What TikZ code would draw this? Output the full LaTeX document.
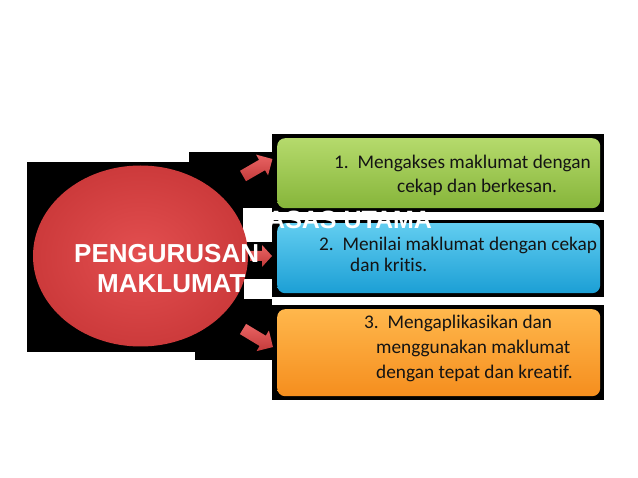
\documentclass[tikz,border=0pt]{standalone}
\usepackage{fontspec}
\setmainfont{Carlito}[Ligatures={NoCommon}]
\newfontfamily\headfont{Liberation Sans}
\usetikzlibrary{shapes.geometric}
\definecolor{txtdark}{HTML}{141414}
\definecolor{grtop}{HTML}{B5DA6C}
\definecolor{grbot}{HTML}{86B53A}
\definecolor{bltop}{HTML}{62CDF0}
\definecolor{blbot}{HTML}{1C9FD5}
\definecolor{ortop}{HTML}{FFB74C}
\definecolor{orbot}{HTML}{F58E1E}
\definecolor{redin}{HTML}{E34F50}
\definecolor{redout}{HTML}{CC3A3B}
\definecolor{artop}{HTML}{E96464}
\definecolor{arbot}{HTML}{C33A3A}
\begin{document}
\begin{tikzpicture}[x=1pt,y=-1pt,
  blk/.style={fill=black,draw=none},
  wht/.style={fill=white,draw=none},
  cardbox/.style={rectangle,rounded corners=8pt,draw=none,anchor=north west,minimum width=323pt},
  boxtxt/.style={anchor=base west,inner sep=0pt,text=txtdark,font=\fontsize{19.3}{23}\selectfont},
  headtxt/.style={anchor=base west,inner sep=0pt,text=white,font=\headfont\bfseries\fontsize{26}{30}\selectfont},
  asastxt/.style={anchor=base west,inner sep=0pt,text=white,font=\headfont\bfseries\fontsize{25}{28}\selectfont},
  redarrow/.style={top color=artop,bottom color=arbot,draw=none}]
% canvas
\path[fill=white,use as bounding box] (0,0) rectangle (638,478);
% black backgrounds
\path[blk] (27,162) rectangle (272,352);
\path[blk] (189,152) rectangle (272,162);
\path[blk] (195,352) rectangle (272,360);
\path[blk] (272,134) rectangle (604,212);
\path[blk] (272,220) rectangle (604,297);
\path[blk] (272,305) rectangle (604,400);
% white patches
\path[wht] (243,208) rectangle (272,242);
\path[wht] (244,279) rectangle (272,299);
% central ellipse
\node[ellipse,draw=none,minimum width=215pt,minimum height=181pt,inner color=redin,outer color=redout] (hub) at (140.5,256) {};
% arrows
\begin{scope}[shift={(243,176)},rotate=30]
  \path[redarrow] (0,-6)--(22,-6)--(22,-12)--(34,0)--(22,12)--(22,6)--(0,6)--cycle;
\end{scope}
\begin{scope}[shift={(250,256)}]
  \path[redarrow] (0,-5)--(12,-5)--(12,-11)--(22,0)--(12,11)--(12,5)--(0,5)--cycle;
\end{scope}
\begin{scope}[shift={(243,329)},rotate=-31]
  \path[redarrow] (0,-6)--(23,-6)--(23,-12)--(35,0)--(23,12)--(23,6)--(0,6)--cycle;
\end{scope}
% boxes
\node[cardbox,minimum height=70pt,top color=grtop,bottom color=grbot] (b1) at (277,138) {};
\node[cardbox,minimum height=70pt,top color=bltop,bottom color=blbot] (b2) at (277,223) {};
\node[cardbox,minimum height=87pt,top color=ortop,bottom color=orbot] (b3) at (277,309) {};
% box texts
\node[boxtxt] (t11) at (334,169) {1.\ \ Mengakses maklumat dengan};
\node[boxtxt] (t12) at (397,193) {cekap dan berkesan.};
\node[boxtxt] (t21) at (319,251) {2.\ \ Menilai maklumat dengan cekap};
\node[boxtxt] (t22) at (350,272) {dan kritis.};
\node[boxtxt] (t31) at (364,329) {3.\ \ Mengaplikasikan dan};
\node[boxtxt] (t32) at (376,354) {menggunakan maklumat};
\node[boxtxt] (t33) at (376,379) {dengan tepat dan kreatif.};
% headings
\node[headtxt] (h1) at (74,263) {PENGURUSAN};
\node[headtxt] (h2) at (97,293) {MAKLUMAT};
\node[asastxt] (asas) at (267,229) {ASAS UTAMA};
\end{tikzpicture}
\end{document}
